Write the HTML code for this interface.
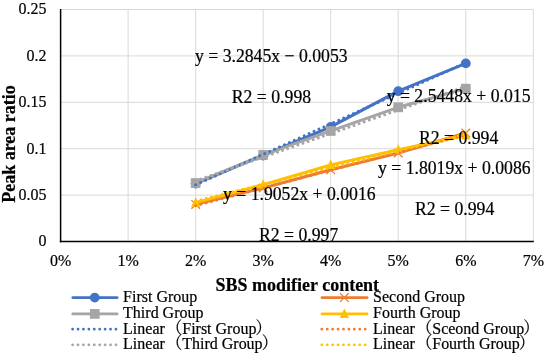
<!DOCTYPE html>
<html><head><meta charset="utf-8"><title>Chart</title>
<style>
html,body{margin:0;padding:0;background:#fff;}
body{width:550px;height:359px;overflow:hidden;}
svg{display:block;}
text{font-family:"Liberation Serif","Noto Serif CJK SC",serif;fill:#000;stroke:#000;stroke-width:0.2px;}
.ax{font-size:16px;}
.lb{font-size:17.7px;}
.lg{font-size:16px;}
.tt{font-size:18px;font-weight:bold;}
</style></head><body>
<svg width="550" height="359" viewBox="0 0 550 359">
<rect width="550" height="359" fill="#fff"/>

<g stroke="#D9D9D9" stroke-width="1" fill="none">
<line x1="60.6" y1="9.5" x2="533.3" y2="9.5"/>
<line x1="60.6" y1="55.9" x2="533.3" y2="55.9"/>
<line x1="60.6" y1="102.3" x2="533.3" y2="102.3"/>
<line x1="60.6" y1="148.7" x2="533.3" y2="148.7"/>
<line x1="60.6" y1="195.1" x2="533.3" y2="195.1"/>
<line x1="128.1" y1="9.5" x2="128.1" y2="241.5"/>
<line x1="195.7" y1="9.5" x2="195.7" y2="241.5"/>
<line x1="263.2" y1="9.5" x2="263.2" y2="241.5"/>
<line x1="330.7" y1="9.5" x2="330.7" y2="241.5"/>
<line x1="398.2" y1="9.5" x2="398.2" y2="241.5"/>
<line x1="465.8" y1="9.5" x2="465.8" y2="241.5"/>
<line x1="533.3" y1="9.5" x2="533.3" y2="241.5"/>
</g>
<g stroke="#000" stroke-width="1.5" fill="none"><line x1="60.6" y1="9" x2="60.6" y2="242.25"/><line x1="59.85" y1="241.5" x2="533.8" y2="241.5"/></g>
<polyline points="195.7,183.6 263.2,155.5 330.7,126.9 398.2,91.2 465.8,63.4" fill="none" stroke="#4472C4" stroke-width="3.0" stroke-linejoin="round" stroke-linecap="round"/>
<circle cx="195.7" cy="183.6" r="4.9" fill="#4472C4"/>
<circle cx="263.2" cy="155.5" r="4.9" fill="#4472C4"/>
<circle cx="330.7" cy="126.9" r="4.9" fill="#4472C4"/>
<circle cx="398.2" cy="91.2" r="4.9" fill="#4472C4"/>
<circle cx="465.8" cy="63.4" r="4.9" fill="#4472C4"/>
<polyline points="195.7,204.4 263.2,188.0 330.7,169.8 398.2,153.0 465.8,133.0" fill="none" stroke="#ED7D31" stroke-width="3.0" stroke-linejoin="round" stroke-linecap="round"/>
<path d="M191.4 200.1L200.0 208.7M191.4 208.7L200.0 200.1" stroke="#ED7D31" stroke-width="1.3" fill="none"/>
<path d="M258.9 183.7L267.5 192.3M258.9 192.3L267.5 183.7" stroke="#ED7D31" stroke-width="1.3" fill="none"/>
<path d="M326.4 165.5L335.0 174.1M326.4 174.1L335.0 165.5" stroke="#ED7D31" stroke-width="1.3" fill="none"/>
<path d="M393.9 148.7L402.6 157.3M393.9 157.3L402.6 148.7" stroke="#ED7D31" stroke-width="1.3" fill="none"/>
<path d="M461.5 128.7L470.1 137.3M461.5 137.3L470.1 128.7" stroke="#ED7D31" stroke-width="1.3" fill="none"/>
<polyline points="195.7,183.0 263.2,154.9 330.7,130.9 398.2,107.3 465.8,88.6" fill="none" stroke="#A5A5A5" stroke-width="3.0" stroke-linejoin="round" stroke-linecap="round"/>
<rect x="190.8" y="178.2" width="9.7" height="9.7" fill="#A5A5A5"/>
<rect x="258.3" y="150.1" width="9.7" height="9.7" fill="#A5A5A5"/>
<rect x="325.9" y="126.1" width="9.7" height="9.7" fill="#A5A5A5"/>
<rect x="393.4" y="102.5" width="9.7" height="9.7" fill="#A5A5A5"/>
<rect x="460.9" y="83.8" width="9.7" height="9.7" fill="#A5A5A5"/>
<polyline points="195.7,202.6 263.2,184.6 330.7,165.0 398.2,149.6 465.8,135.5" fill="none" stroke="#FFC000" stroke-width="3.0" stroke-linejoin="round" stroke-linecap="round"/>
<path d="M195.7 197.2L200.3 206.7L191.1 206.7Z" fill="#FFC000"/>
<path d="M263.2 179.2L267.8 188.7L258.6 188.7Z" fill="#FFC000"/>
<path d="M330.7 159.6L335.3 169.1L326.1 169.1Z" fill="#FFC000"/>
<path d="M398.2 144.2L402.9 153.7L393.6 153.7Z" fill="#FFC000"/>
<path d="M465.8 130.1L470.4 139.6L461.2 139.6Z" fill="#FFC000"/>
<line x1="195.7" y1="184.8" x2="465.8" y2="62.8" stroke="#4472C4" stroke-width="2.9" stroke-dasharray="0.01 5.4" stroke-linecap="round"/>
<line x1="195.7" y1="205.7" x2="465.8" y2="134.9" stroke="#ED7D31" stroke-width="2.9" stroke-dasharray="0.01 5.4" stroke-linecap="round"/>
<line x1="195.7" y1="180.8" x2="465.8" y2="86.4" stroke="#A5A5A5" stroke-width="2.9" stroke-dasharray="0.01 5.4" stroke-linecap="round"/>
<line x1="195.7" y1="201.1" x2="465.8" y2="134.2" stroke="#FFC000" stroke-width="2.9" stroke-dasharray="0.01 5.4" stroke-linecap="round"/>
<text class="ax" transform="translate(46.5 246.3) scale(1 1.04)" text-anchor="end">0</text>
<text class="ax" transform="translate(46.5 199.9) scale(1 1.04)" text-anchor="end">0.05</text>
<text class="ax" transform="translate(46.5 153.5) scale(1 1.04)" text-anchor="end">0.1</text>
<text class="ax" transform="translate(46.5 107.1) scale(1 1.04)" text-anchor="end">0.15</text>
<text class="ax" transform="translate(46.5 60.7) scale(1 1.04)" text-anchor="end">0.2</text>
<text class="ax" transform="translate(46.5 14.3) scale(1 1.04)" text-anchor="end">0.25</text>
<text class="ax" transform="translate(60.6 265.5) scale(1 1.04)" text-anchor="middle">0%</text>
<text class="ax" transform="translate(128.1 265.5) scale(1 1.04)" text-anchor="middle">1%</text>
<text class="ax" transform="translate(195.7 265.5) scale(1 1.04)" text-anchor="middle">2%</text>
<text class="ax" transform="translate(263.2 265.5) scale(1 1.04)" text-anchor="middle">3%</text>
<text class="ax" transform="translate(330.7 265.5) scale(1 1.04)" text-anchor="middle">4%</text>
<text class="ax" transform="translate(398.2 265.5) scale(1 1.04)" text-anchor="middle">5%</text>
<text class="ax" transform="translate(465.8 265.5) scale(1 1.04)" text-anchor="middle">6%</text>
<text class="ax" transform="translate(533.3 265.5) scale(1 1.04)" text-anchor="middle">7%</text>
<text class="tt" transform="translate(297.3 290.8) scale(1 1.04)" text-anchor="middle">SBS modifier content</text>
<text class="tt" transform="translate(14.9 144) rotate(-90) scale(1 1.04)" text-anchor="middle">Peak area ratio</text>
<text class="lb" transform="translate(195.0 61.8) scale(1 1.04)">y = 3.2845x − 0.0053</text>
<text class="lb" transform="translate(231.8 102.9) scale(1 1.04)">R2 = 0.998</text>
<text class="lb" transform="translate(386.7 102.4) scale(1 1.04)">y = 2.5448x + 0.015</text>
<text class="lb" transform="translate(419.0 144.2) scale(1 1.04)">R2 = 0.994</text>
<text class="lb" transform="translate(378.0 173.6) scale(1 1.04)">y = 1.8019x + 0.0086</text>
<text class="lb" transform="translate(415.0 214.5) scale(1 1.04)">R2 = 0.994</text>
<text class="lb" transform="translate(223.0 199.5) scale(1 1.04)">y = 1.9052x + 0.0016</text>
<text class="lb" transform="translate(259.0 240.5) scale(1 1.04)">R2 = 0.997</text>
<line x1="72.7" y1="297.6" x2="117.2" y2="297.6" stroke="#4472C4" stroke-width="2.6" stroke-linecap="round"/>
<circle cx="94.75" cy="297.6" r="4.9" fill="#4472C4"/>
<text class="lg" transform="translate(123.1 302.2) scale(1 1.04)">First Group</text>
<line x1="72.7" y1="313.9" x2="117.2" y2="313.9" stroke="#A5A5A5" stroke-width="2.6" stroke-linecap="round"/>
<rect x="89.9" y="309.04999999999995" width="9.7" height="9.7" fill="#A5A5A5"/>
<text class="lg" transform="translate(123.1 317.8) scale(1 1.04)">Third Group</text>
<line x1="72.6" y1="329.2" x2="118" y2="329.2" stroke="#4472C4" stroke-width="2.8" stroke-dasharray="0.01 5.41" stroke-linecap="round"/>
<text class="lg" transform="translate(123.1 333.8) scale(1 1.04)">Linear<tspan dx="1.4">（</tspan>First Group<tspan dx="-1">）</tspan></text>
<line x1="72.6" y1="344.8" x2="118" y2="344.8" stroke="#A5A5A5" stroke-width="2.8" stroke-dasharray="0.01 5.41" stroke-linecap="round"/>
<text class="lg" transform="translate(123.1 349.2) scale(1 1.04)">Linear<tspan dx="1.4">（</tspan>Third Group<tspan dx="-1">）</tspan></text>
<line x1="321.9" y1="297.6" x2="367.2" y2="297.6" stroke="#ED7D31" stroke-width="2.6" stroke-linecap="round"/>
<path d="M340.1 293.3L348.7 301.9M340.1 301.9L348.7 293.3" stroke="#ED7D31" stroke-width="1.3" fill="none"/>
<text class="lg" transform="translate(373.1 302.2) scale(1 1.04)">Second Group</text>
<line x1="321.9" y1="313.9" x2="367.2" y2="313.9" stroke="#FFC000" stroke-width="2.6" stroke-linecap="round"/>
<path d="M344.4 308.5L349.0 318.0L339.8 318.0Z" fill="#FFC000"/>
<text class="lg" transform="translate(373.1 317.8) scale(1 1.04)">Fourth Group</text>
<line x1="321.8" y1="329.2" x2="368" y2="329.2" stroke="#ED7D31" stroke-width="2.8" stroke-dasharray="0.01 5.41" stroke-linecap="round"/>
<text class="lg" transform="translate(373.1 333.8) scale(1 1.04)">Linear<tspan dx="1.4">（</tspan>Sceond Group<tspan dx="-1">）</tspan></text>
<line x1="321.8" y1="344.8" x2="368" y2="344.8" stroke="#FFC000" stroke-width="2.8" stroke-dasharray="0.01 5.41" stroke-linecap="round"/>
<text class="lg" transform="translate(373.1 349.2) scale(1 1.04)">Linear<tspan dx="1.4">（</tspan>Fourth Group<tspan dx="-1">）</tspan></text>
</svg></body></html>
